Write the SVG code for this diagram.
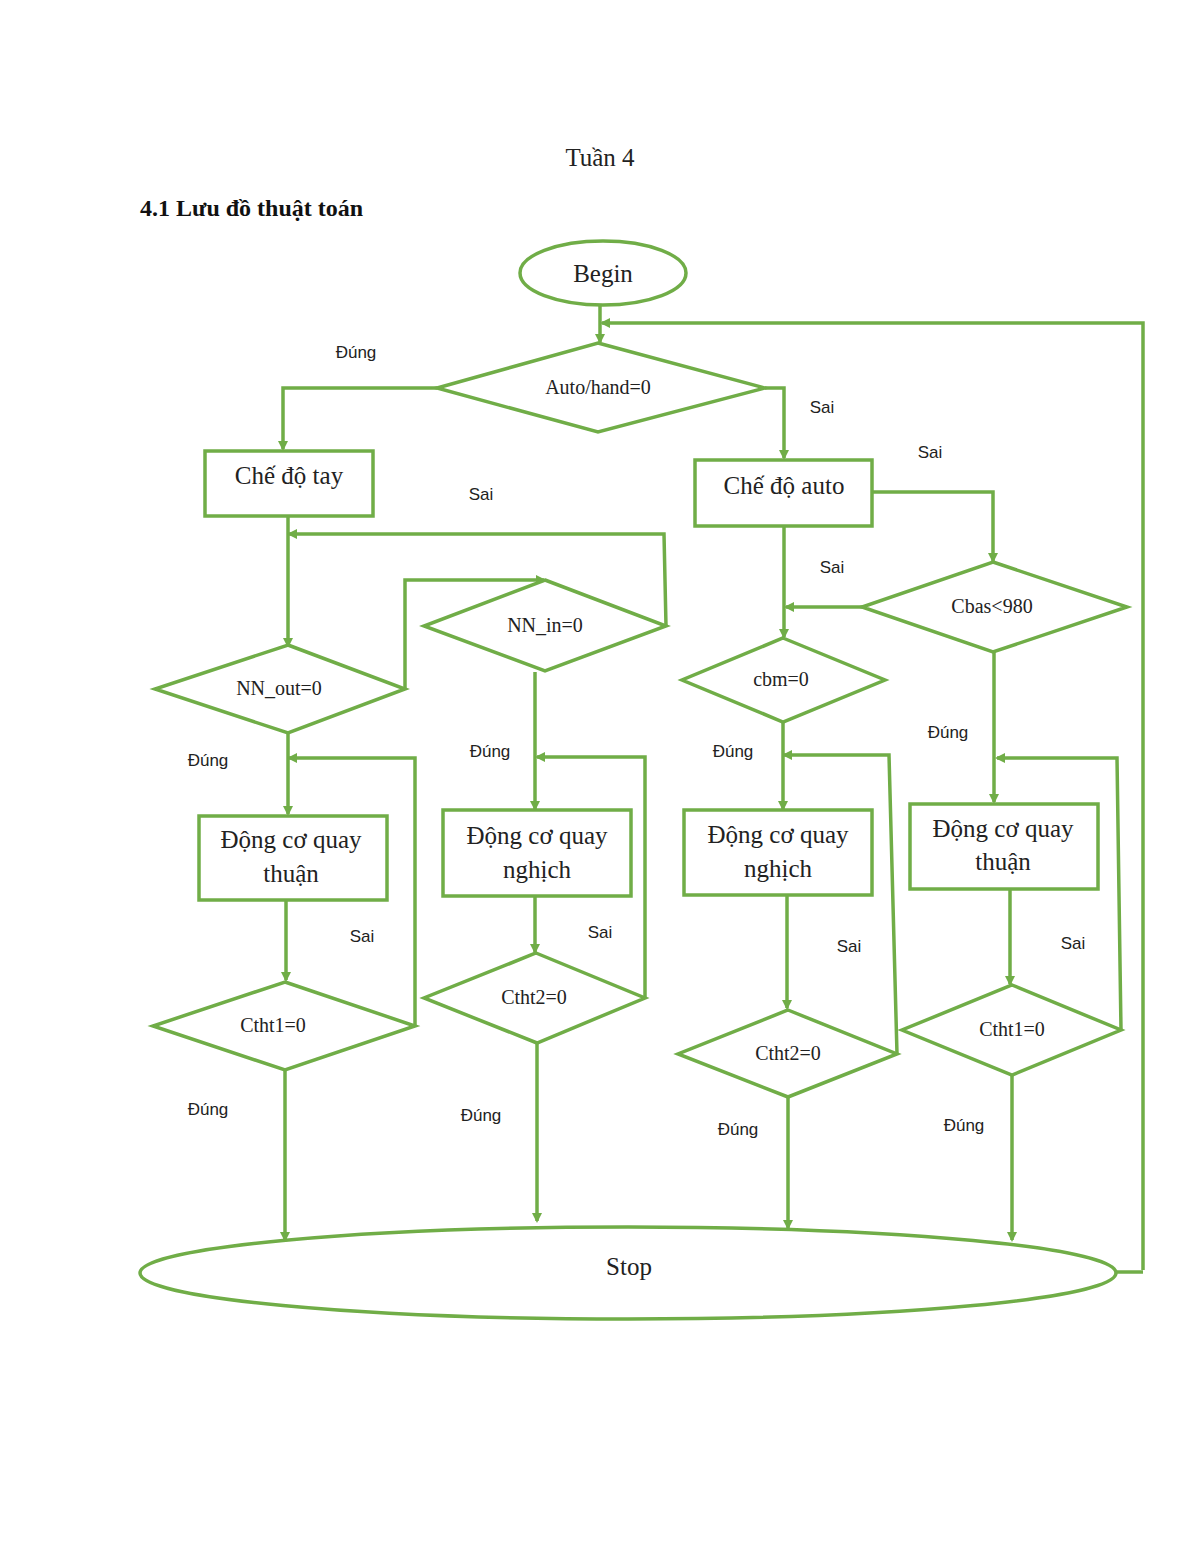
<svg xmlns="http://www.w3.org/2000/svg" width="1200" height="1553" viewBox="0 0 1200 1553">
<defs>
<marker id="a" markerWidth="10" markerHeight="10" refX="8" refY="5" orient="auto" markerUnits="userSpaceOnUse"><path d="M0,0 L10,5 L0,10 Z" fill="#70AD47"/></marker>
<style>
.s{fill:#fff;stroke:#70AD47;stroke-width:3.5}
.c{fill:none;stroke:#70AD47;stroke-width:3.5}
.t{font-family:"Liberation Serif",serif;font-size:25px;text-anchor:middle;fill:#222}
.d{font-family:"Liberation Serif",serif;font-size:20px;text-anchor:middle;fill:#222}
.l{font-family:"Liberation Sans",sans-serif;font-size:17px;text-anchor:middle;fill:#222}
</style>
</defs>
<rect width="1200" height="1553" fill="#fff"/>
<text x="600" y="166" class="t">Tuần 4</text>
<text x="140" y="216" font-family="Liberation Serif,serif" font-size="24" font-weight="bold" fill="#111">4.1 Lưu đồ thuật toán</text>
<g id="connectors" class="c" marker-end="url(#a)">
<path d="M600,305 V342"/>
<path d="M1143,1270 V323 H602"/>
<path d="M437,388 H283 V449"/>
<path d="M765,388 H784 V458"/>
<path d="M288,516 V646"/>
<path d="M666,626 L664,534 H289"/>
<path d="M405,689 V580 H544"/>
<path d="M288,733 V814"/>
<path d="M415,1026 V758 H289"/>
<path d="M286,900 V980"/>
<path d="M285,1070 V1240"/>
<path d="M535,672 V809"/>
<path d="M645,998 V757 H537"/>
<path d="M535,896 V952"/>
<path d="M537,1043 V1221"/>
<path d="M784,526 V637"/>
<path d="M872,492 H993 V561"/>
<path d="M862,607 H786"/>
<path d="M783,722 V809"/>
<path d="M897,1054 L889,755 H784"/>
<path d="M787,895 V1008"/>
<path d="M788,1097 V1228"/>
<path d="M994,652 V802"/>
<path d="M1121,1030 L1117,758 H997"/>
<path d="M1010,889 V984"/>
<path d="M1012,1075 V1240"/>
<path d="M1117,1272 H1143" marker-end="none"/>
</g>
<g id="begin"><ellipse cx="603" cy="273" rx="83" ry="32" class="s"/><text x="603" y="282" class="t">Begin</text></g>
<g id="d_auto"><polygon points="598,343 765,388 598,432 437,388" class="s"/><text x="598" y="394" class="d">Auto/hand=0</text></g>
<g id="tay"><rect x="205" y="451" width="168" height="65" class="s"/><text x="289" y="484" class="t">Chế độ tay</text></g>
<g id="auto"><rect x="695" y="460" width="177" height="66" class="s"/><text x="784" y="494" class="t">Chế độ auto</text></g>
<g id="d_nnout"><polygon points="288,645 405,689 288,733 155,689" class="s"/><text x="279" y="695" class="d">NN_out=0</text></g>
<g id="d_nnin"><polygon points="545,580 666,626 545,671 424,626" class="s"/><text x="545" y="632" class="d">NN_in=0</text></g>
<g id="d_cbas"><polygon points="993,562 1127,607 993,652 862,607" class="s"/><text x="992" y="613" class="d">Cbas&lt;980</text></g>
<g id="d_cbm"><polygon points="783,638 885,680 783,722 682,680" class="s"/><text x="781" y="686" class="d">cbm=0</text></g>
<g id="b1"><rect x="199" y="816" width="188" height="84" class="s"/><text x="291" y="848" class="t">Động cơ quay</text><text x="291" y="882" class="t">thuận</text></g>
<g id="b2"><rect x="443" y="810" width="188" height="86" class="s"/><text x="537" y="844" class="t">Động cơ quay</text><text x="537" y="878" class="t">nghịch</text></g>
<g id="b3"><rect x="684" y="810" width="188" height="85" class="s"/><text x="778" y="843" class="t">Động cơ quay</text><text x="778" y="877" class="t">nghịch</text></g>
<g id="b4"><rect x="910" y="804" width="188" height="85" class="s"/><text x="1003" y="837" class="t">Động cơ quay</text><text x="1003" y="870" class="t">thuận</text></g>
<g id="d_c1"><polygon points="285,982 415,1026 285,1070 153,1026" class="s"/><text x="273" y="1032" class="d">Ctht1=0</text></g>
<g id="d_c2"><polygon points="536,953 645,998 537,1043 424,998" class="s"/><text x="534" y="1004" class="d">Ctht2=0</text></g>
<g id="d_c3"><polygon points="788,1010 897,1054 788,1097 678,1054" class="s"/><text x="788" y="1060" class="d">Ctht2=0</text></g>
<g id="d_c4"><polygon points="1012,985 1121,1030 1012,1075 902,1030" class="s"/><text x="1012" y="1036" class="d">Ctht1=0</text></g>
<g id="stop"><ellipse cx="628" cy="1273" rx="488" ry="46" class="s"/><text x="629" y="1275" class="t">Stop</text></g>
<g id="labels" class="l">
<text x="356" y="358">Đúng</text><text x="822" y="413">Sai</text><text x="481" y="500">Sai</text><text x="930" y="458">Sai</text>
<text x="832" y="573">Sai</text><text x="208" y="766">Đúng</text><text x="490" y="757">Đúng</text><text x="733" y="757">Đúng</text>
<text x="948" y="738">Đúng</text><text x="362" y="942">Sai</text><text x="600" y="938">Sai</text><text x="849" y="952">Sai</text>
<text x="1073" y="949">Sai</text><text x="208" y="1115">Đúng</text><text x="481" y="1121">Đúng</text><text x="738" y="1135">Đúng</text><text x="964" y="1131">Đúng</text>
</g>
</svg>
